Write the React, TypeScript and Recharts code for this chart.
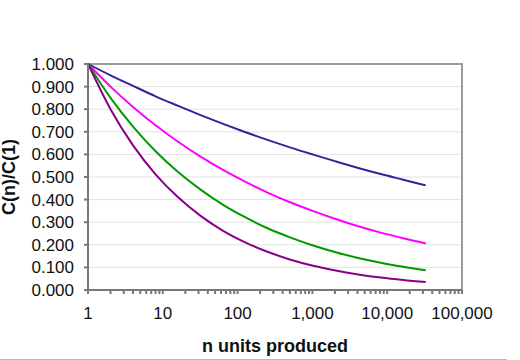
import * as React from 'react';
import { CartesianGrid, Line, LineChart, ReferenceArea, XAxis, YAxis } from 'recharts';

// units produced (doublings) and cost ratio for each learning rate
const units = [1, 2, 4, 8, 16, 32, 64, 128, 256, 512, 1024, 2048, 4096, 8192, 16384, 32768];
const rate95 = [1, 0.95, 0.903, 0.857, 0.815, 0.774, 0.735, 0.698, 0.663, 0.63, 0.599, 0.569, 0.54, 0.513, 0.488, 0.463];
const rate90 = [1, 0.9, 0.81, 0.729, 0.656, 0.59, 0.531, 0.478, 0.43, 0.387, 0.349, 0.314, 0.282, 0.254, 0.229, 0.206];
const rate85 = [1, 0.85, 0.723, 0.614, 0.522, 0.444, 0.377, 0.321, 0.272, 0.232, 0.197, 0.167, 0.142, 0.121, 0.103, 0.087];
const rate80 = [1, 0.8, 0.64, 0.512, 0.41, 0.328, 0.262, 0.21, 0.168, 0.134, 0.107, 0.086, 0.069, 0.055, 0.044, 0.035];

const xMajorTicks = [1, 10, 100, 1000, 10000, 100000];
const xMinorSteps = [2, 3, 4, 5, 6, 7, 8, 9];
const yTicks = [0, 0.1, 0.2, 0.3, 0.4, 0.5, 0.6, 0.7, 0.8, 0.9, 1];

const data = units.map((n, i) => ({ n, r95: rate95[i], r90: rate90[i], r85: rate85[i], r80: rate80[i] }));

// majors + minor ticks between them (labels only on majors)
const xTicks = xMajorTicks.flatMap((d) => (d < 100000 ? [d, ...xMinorSteps.map((m) => m * d)] : [d]));

const ink = '#111';
const axisGray = '#777';

function XTick({ x, y, payload }: any) {
  const v = payload.value as number;
  if (!xMajorTicks.includes(v)) return <g />;
  return (
    <text x={x} y={y} dy="0.71em" textAnchor="middle" fill={ink} fontSize={17}>
      {v.toLocaleString('en-US')}
    </text>
  );
}

export default function App() {
  return (
    <div style={{ position: 'absolute', left: 0, top: 0, width: 520, height: 360, fontFamily: '"Liberation Sans", Arial, sans-serif', background: '#fff' }}>
      <LineChart width={520} height={359} data={data} margin={{ top: 64, right: 58, bottom: 0, left: 0 }}>
        <CartesianGrid horizontal vertical={false} stroke="#e2e2e2" strokeWidth={1} />
        <ReferenceArea x1={1} x2={100000} y1={0} y2={1} fill="none" stroke="#9a9a9a" strokeWidth={2} ifOverflow="visible" />
        <XAxis
          dataKey="n"
          type="number"
          scale="log"
          domain={[1, 100000]}
          ticks={xTicks}
          interval={0}
          height={69}
          stroke={axisGray}
          strokeWidth={2}
          tickSize={4}
          tickMargin={13}
          tick={<XTick />}
          allowDataOverflow
          label={{ value: 'n units produced', position: 'insideBottom', offset: 7, fill: ink, fontSize: 18, fontWeight: 'bold' }}
        />
        <YAxis
          type="number"
          domain={[0, 1]}
          ticks={yTicks}
          interval={0}
          width={88}
          stroke={axisGray}
          strokeWidth={2}
          tickSize={4}
          tickMargin={10}
          tick={{ fill: ink, fontSize: 17 }}
          tickFormatter={(v: number) => v.toFixed(3)}
          label={{ value: 'C(n)/C(1)', angle: -90, position: 'insideLeft', offset: 9, fill: ink, fontSize: 18, fontWeight: 'bold', style: { textAnchor: 'middle' } }}
        />
        <Line type="monotone" dataKey="r95" stroke="#3c1e9e" strokeWidth={2} dot={false} isAnimationActive={false} />
        <Line type="monotone" dataKey="r90" stroke="#ff00ff" strokeWidth={2} dot={false} isAnimationActive={false} />
        <Line type="monotone" dataKey="r85" stroke="#009a00" strokeWidth={2} dot={false} isAnimationActive={false} />
        <Line type="monotone" dataKey="r80" stroke="#880088" strokeWidth={2} dot={false} isAnimationActive={false} />
      </LineChart>
      <div style={{ position: 'absolute', left: 0, top: 359, width: 507, height: 1, background: '#bbb' }} />
    </div>
  );
}
